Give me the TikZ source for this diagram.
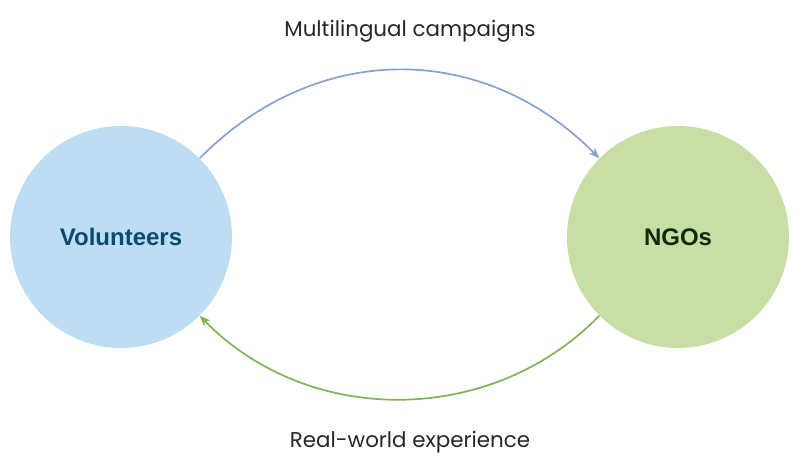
\documentclass[tikz,border=0pt]{standalone}
\usepackage{fontspec}
\setmainfont{Poppins}
\newfontfamily\boldsans{Liberation Sans}
\usetikzlibrary{arrows.meta}
\definecolor{volfill}{HTML}{BDDDF2}
\definecolor{ngofill}{HTML}{C7DFA5}
\definecolor{voltext}{HTML}{0B4A6F}
\definecolor{ngotext}{HTML}{102A0C}
\definecolor{toparrow}{HTML}{8A9FD2}
\definecolor{botarrow}{HTML}{7FB356}
\begin{document}
\begin{tikzpicture}[x=1pt,y=-1pt,
  bubble/.style={circle,minimum size=222pt,inner sep=0pt,font=\boldsans\bfseries\fontsize{24}{28}\selectfont},
  flow/.style={line width=1.7pt,-{Stealth[length=11pt,width=8.5pt]}},
  caption/.style={font=\fontsize{21.4}{25}\selectfont,text=black!85}]
\useasboundingbox (0,0) rectangle (800,469);
\node[bubble,fill=volfill,text=voltext] (vol) at (121,237) {Volunteers};
\node[bubble,fill=ngofill,text=ngotext] (ngo) at (678,237) {NGOs};
\draw[flow,toparrow] (vol.45) .. controls (316,40.5) and (483,40.5) .. (ngo.135);
\draw[flow,botarrow] (ngo.-135) .. controls (491,427) and (308,427) .. (vol.-45);
\node[caption] (top) at (410,31) {Multilingual campaigns};
\node[caption] (bot) at (410,442) {Real-world experience};
\end{tikzpicture}
\end{document}
